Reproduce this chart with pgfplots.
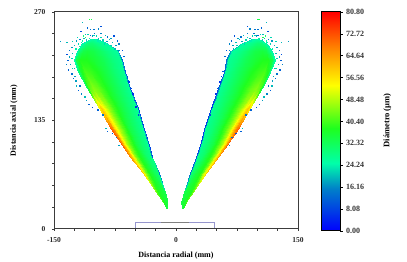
\documentclass[border=0pt]{standalone}
\usepackage{pgfplots}
\pgfplotsset{compat=1.18}
\usepackage{fontspec}
\setmainfont{Liberation Serif}
\definecolor{axgray}{RGB}{60,60,60}
\pgfplotsset{
  colormap={spray}{
    rgb255(0)=(0,0,255)
    rgb255(16)=(0,130,200)
    rgb255(25)=(0,255,170)
    rgb255(38)=(30,255,30)
    rgb255(54)=(255,255,0)
    rgb255(68)=(255,130,0)
    rgb255(81)=(255,0,0)
  }
}
\begin{document}
\begin{tikzpicture}
\path[use as bounding box] (0pt,0pt) rectangle (407pt,262pt);
\begin{axis}[
  at={(54pt,33pt)}, anchor=south west,
  scale only axis, width=244pt, height=217pt,
  xmin=-150, xmax=150, ymin=0, ymax=270,
  xtick={-150,0,150}, ytick={0,135,270},
  minor xtick={-125,-100,-75,-50,-25,25,50,75,100,125},
  minor ytick={27,54,81,108,162,189,216,243},
  tick style={axgray, line width=0.8pt},
  major tick length=2pt, minor tick length=2pt,
  xtick pos=bottom, ytick pos=left,
  tick align=outside,
  axis line style={axgray, line width=1pt},
  /pgf/number format/assume math mode=true,
  tick label style={font=\bfseries\fontsize{7.5}{8}\selectfont, text=black!85},
  xticklabel style={yshift=-3pt},
  yticklabel style={xshift=-3pt},
  xlabel={\bfseries Distancia radial (mm)},
  ylabel={\bfseries Distancia axial (mm)},
  label style={font=\bfseries\fontsize{8}{9}\selectfont},
  xlabel style={at={(axis description cs:0.5,0)},yshift=-19pt,anchor=north},
  ylabel style={at={(axis description cs:0,0.5)},yshift=33pt,anchor=south},
  colormap name=spray,
  point meta min=0, point meta max=80.8,
  axis on top,
  clip=true,
]
% left spray
\addplot[surf, shader=interp, mesh/cols=9, point meta=explicit] coordinates {
(-12.5,26)[38] (-12.4,26)[38] (-12.4,26)[38] (-12.2,26)[37] (-12.1,26)[36] (-11.9,26)[36] (-11.7,26)[35] (-11.5,26)[35] (-11.5,26)[34]
(-16.5,34)[42] (-16.1,34)[41] (-15.6,34)[40] (-14.9,34)[38] (-13.9,34)[36] (-12.6,34)[36] (-11.3,34)[35] (-10.2,34)[34] (-10,34)[30]
(-27.5,50)[50] (-26.8,50)[46] (-25.8,50)[42] (-24.4,50)[39] (-22.5,50)[37] (-20,50)[36] (-17.5,50)[35] (-15.3,50)[33] (-15,50)[22]
(-40.5,70)[60] (-39.4,70)[54] (-37.8,70)[48] (-35.8,70)[42] (-32.9,70)[38] (-29.1,70)[35] (-25.3,70)[32] (-22,70)[30] (-21.5,70)[14]
(-56,90)[66] (-54.4,90)[60] (-52.2,90)[52] (-49.3,90)[45] (-45.2,90)[39] (-39.8,90)[34] (-34.4,90)[30] (-29.7,90)[28] (-29,90)[10]
(-67,105)[72] (-65,105)[66] (-62.5,105)[56] (-59,105)[47] (-54,105)[40] (-47.7,105)[34] (-40.6,105)[30] (-34.4,105)[27] (-33.5,105)[8]
(-80,125)[72] (-77.8,125)[68] (-74.5,125)[58] (-70.5,125)[49] (-64.5,125)[41] (-56,125)[34] (-48,125)[30] (-40.1,125)[27] (-39,125)[8]
(-95,150)[55] (-92.2,150)[60] (-88.5,150)[54] (-83.5,150)[47] (-76,150)[40] (-66.5,150)[34] (-57,150)[30] (-48.3,150)[27] (-47,150)[8]
(-110,175)[32] (-106.8,175)[42] (-102.5,175)[45] (-96.5,175)[43] (-88.5,175)[39] (-77.5,175)[34] (-66.5,175)[30] (-57.5,175)[27] (-56,175)[10]
(-120,195)[28] (-116.6,195)[37] (-112,195)[41] (-105.8,195)[40] (-97.2,195)[38] (-85.8,195)[34] (-74.4,195)[30] (-64.5,195)[27] (-63,195)[12]
(-126,210)[25] (-122.4,210)[34] (-117.6,210)[38] (-111,210)[38] (-102,210)[36] (-90,210)[33] (-78,210)[29] (-67.5,210)[27] (-66,210)[14]
(-122,222)[24] (-118.9,222)[30] (-114.9,222)[34] (-109.3,222)[35] (-101.6,222)[34] (-91.4,222)[31] (-81.2,222)[28] (-72.3,222)[26] (-71,222)[18]
(-115,231)[24] (-113.2,231)[27] (-110.8,231)[29] (-107.5,231)[30] (-103,231)[30] (-97,231)[28] (-91,231)[27] (-85.9,231)[25] (-85,231)[22]
(-106,236)[22] (-105.4,236)[24] (-104.6,236)[25] (-103.5,236)[26] (-102,236)[26] (-100,236)[25] (-98,236)[24] (-96.3,236)[22] (-96,236)[20]
};
% right spray
\addplot[surf, shader=interp, mesh/cols=9, point meta=explicit] coordinates {
(8.5,26)[38] (8.4,26)[38] (8.4,26)[38] (8.2,26)[37] (8.1,26)[36] (7.9,26)[36] (7.7,26)[35] (7.5,26)[35] (7.5,26)[34]
(12.5,34)[42] (12.1,34)[41] (11.6,34)[40] (10.9,34)[38] (9.9,34)[36] (8.6,34)[36] (7.3,34)[35] (6.2,34)[34] (6,34)[30]
(23.5,50)[50] (22.8,50)[46] (21.8,50)[42] (20.4,50)[39] (18.5,50)[37] (16,50)[36] (13.5,50)[35] (11.3,50)[33] (11,50)[22]
(36.5,70)[60] (35.4,70)[54] (33.8,70)[48] (31.8,70)[42] (28.9,70)[38] (25.1,70)[35] (21.3,70)[32] (18,70)[30] (17.5,70)[14]
(52,90)[66] (50.4,90)[60] (48.2,90)[52] (45.3,90)[45] (41.2,90)[39] (35.8,90)[34] (30.4,90)[30] (25.7,90)[28] (25,90)[10]
(63,105)[72] (61,105)[66] (58.5,105)[56] (55,105)[47] (50,105)[40] (43.7,105)[34] (36.6,105)[30] (30.4,105)[27] (29.5,105)[8]
(76,125)[72] (73.8,125)[68] (70.5,125)[58] (66.5,125)[49] (60.5,125)[41] (52,125)[34] (44,125)[30] (36.1,125)[27] (35,125)[8]
(91,150)[55] (88.2,150)[60] (84.5,150)[54] (79.5,150)[47] (72,150)[40] (62.5,150)[34] (53,150)[30] (44.3,150)[27] (43,150)[8]
(106,175)[32] (102.8,175)[42] (98.5,175)[45] (92.5,175)[43] (84.5,175)[39] (73.5,175)[34] (62.5,175)[30] (53.5,175)[27] (52,175)[10]
(116,195)[28] (112.6,195)[37] (108,195)[41] (101.8,195)[40] (93.2,195)[38] (81.8,195)[34] (70.4,195)[30] (60.5,195)[27] (59,195)[12]
(122,210)[25] (118.4,210)[34] (113.6,210)[38] (107,210)[38] (98,210)[36] (86,210)[33] (74,210)[29] (63.5,210)[27] (62,210)[14]
(118,222)[24] (114.9,222)[30] (110.9,222)[34] (105.3,222)[35] (97.6,222)[34] (87.4,222)[31] (77.2,222)[28] (68.3,222)[26] (67,222)[18]
(111,231)[24] (109.2,231)[27] (106.8,231)[29] (103.5,231)[30] (99,231)[30] (93,231)[28] (87,231)[27] (81.9,231)[25] (81,231)[22]
(102,236)[22] (101.4,236)[24] (100.6,236)[25] (99.5,236)[26] (98,236)[26] (96,236)[25] (94,236)[24] (92.3,236)[22] (92,236)[20]
};
% scattered droplets, left
\addplot[scatter, only marks, mark=square*, mark size=0.7pt, scatter src=explicit, mark options={draw opacity=0}] coordinates {
(-142,233)[18] (-134,232)[20] (-106,261)[34] (-104,261)[34] (-115,257)[20] (-109,250)[12] (-117,246)[10] (-105,248)[14] (-101,248)[14] (-92,252)[10] (-95,249)[16] (-100,243)[14] (-105,241)[12] (-114,240)[30] (-111,238)[34]
(-118,236)[16] (-122,234)[18] (-113,237)[20] (-108,242)[22] (-103,240)[18] (-98,240)[22] (-92,243)[16] (-87,241)[20] (-84,239)[14] (-80,237)[18] (-76,240)[10] (-72,234)[12] (-70,230)[16] (-66,222)[10] (-64,215)[12]
(-128,226)[18] (-131,222)[14] (-134,217)[10] (-127,218)[20] (-133,210)[12] (-135,205)[16] (-130,205)[18] (-132,198)[12] (-128,193)[14] (-126,187)[12] (-123,184)[18] (-118,178)[14] (-120,172)[12] (-116,168)[16] (-110,160)[18] (-107,155)[12] (-103,151)[10] (-96,148)[12] (-90,142)[14] (-86,125)[20] (-84,121)[12] (-78,119)[10] (-73,114)[14] (-70,104)[18]
(-62,196)[10] (-60,190)[8] (-58,183)[6] (-55,175)[8] (-53,168)[6] (-51,160)[8] (-49,152)[6] (-46,142)[8]
(-125,228)[20] (-120,230)[22] (-115,234)[24] (-110,235)[22] (-100,236)[24] (-95,237)[20] (-90,235)[22] (-85,233)[18] (-78,232)[20] (-74,228)[18] (-131,214)[18] (-125,200)[20] (-124,190)[18] (-112,164)[20]
(-127,233)[22] (-121,238)[22] (-116,232)[24] (-111,242)[20] (-106,237)[24] (-101,241)[22] (-96,234)[24] (-92,238)[22] (-88,230)[22] (-82,236)[20] (-79,228)[22] (-75,224)[20] (-70,222)[16]
(-123,224)[24] (-119,227)[26] (-112,231)[26] (-94,232)[24] (-84,229)[24] (-128,212)[22] (-127,200)[22] (-122,178)[20]
};
% scattered droplets, right
\addplot[scatter, only marks, mark=square*, mark size=0.7pt, scatter src=explicit, mark options={draw opacity=0}] coordinates {
(138,233)[18] (130,232)[20] (102,261)[34] (100,261)[34] (111,257)[20] (105,250)[12] (113,246)[10] (101,248)[14] (97,248)[14] (88,252)[10] (91,249)[16] (96,243)[14] (101,241)[12] (110,240)[30] (107,238)[34]
(114,236)[16] (118,234)[18] (109,237)[20] (104,242)[22] (99,240)[18] (94,240)[22] (88,243)[16] (83,241)[20] (80,239)[14] (76,237)[18] (72,240)[10] (68,234)[12] (66,230)[16] (62,222)[10] (60,215)[12]
(124,226)[18] (127,222)[14] (130,217)[10] (123,218)[20] (129,210)[12] (131,205)[16] (126,205)[18] (128,198)[12] (124,193)[14] (122,187)[12] (119,184)[18] (114,178)[14] (116,172)[12] (112,168)[16] (106,160)[18] (103,155)[12] (99,151)[10] (92,148)[12] (86,142)[14] (82,125)[20] (80,121)[12] (74,119)[10] (69,114)[14] (66,104)[18]
(58,196)[10] (56,190)[8] (54,183)[6] (51,175)[8] (49,168)[6] (47,160)[8] (45,152)[6] (42,142)[8]
(121,228)[20] (116,230)[22] (111,234)[24] (106,235)[22] (96,236)[24] (91,237)[20] (86,235)[22] (81,233)[18] (74,232)[20] (70,228)[18] (127,214)[18] (121,200)[20] (120,190)[18] (108,164)[20]
(123,233)[22] (117,238)[22] (112,232)[24] (107,242)[20] (102,237)[24] (97,241)[22] (92,234)[24] (88,238)[22] (84,230)[22] (78,236)[20] (75,228)[22] (71,224)[20] (66,222)[16]
(119,224)[24] (115,227)[26] (108,231)[26] (90,232)[24] (80,229)[24] (124,212)[22] (123,200)[22] (118,178)[20]
};
% nozzle outline
\addplot[color={rgb,255:red,150;green,150;blue,205}, line width=0.8pt] coordinates {(-49.5,0) (-49.5,8.7) (46.7,8.7) (46.7,0)};
\addplot[color=gray, line width=0.8pt] coordinates {(-18.5,8.7) (16,8.7)};
\end{axis}
% colour bar
\begin{axis}[
  at={(321pt,31pt)}, anchor=south west,
  scale only axis, width=19pt, height=219pt,
  xmin=0, xmax=1, ymin=0, ymax=80.8,
  enlargelimits=false,
  xtick=\empty,
  ytick={0,8.08,16.16,24.24,32.32,40.4,48.48,56.56,64.64,72.72,80.8},
  ytick pos=right,
  yticklabel pos=right,
  tick align=outside,
  tick style={black, line width=0.7pt},
  major tick length=2.5pt,
  axis line style={black, line width=1pt},
  yticklabel style={/pgf/number format/.cd,fixed,fixed zerofill,precision=2,assume math mode=true,},
  tick label style={font=\bfseries\fontsize{8}{9}\selectfont, text=black!80},
  ylabel={\bfseries Diámetro (µm)},
  ylabel style={font=\bfseries\fontsize{8.5}{9}\selectfont, at={(axis description cs:1,0.505)}, anchor=north, rotate=0, yshift=-40pt},
  colormap name=spray,
  point meta min=0, point meta max=80.8,
  axis on top,
]
\addplot[surf, shader=interp, mesh/cols=2, point meta=explicit] coordinates {
(0,0)[0] (1,0)[0]
(0,16)[16] (1,16)[16]
(0,25)[25] (1,25)[25]
(0,38)[38] (1,38)[38]
(0,54)[54] (1,54)[54]
(0,68)[68] (1,68)[68]
(0,80.8)[80.8] (1,80.8)[80.8]
};
\end{axis}
\end{tikzpicture}
\end{document}
